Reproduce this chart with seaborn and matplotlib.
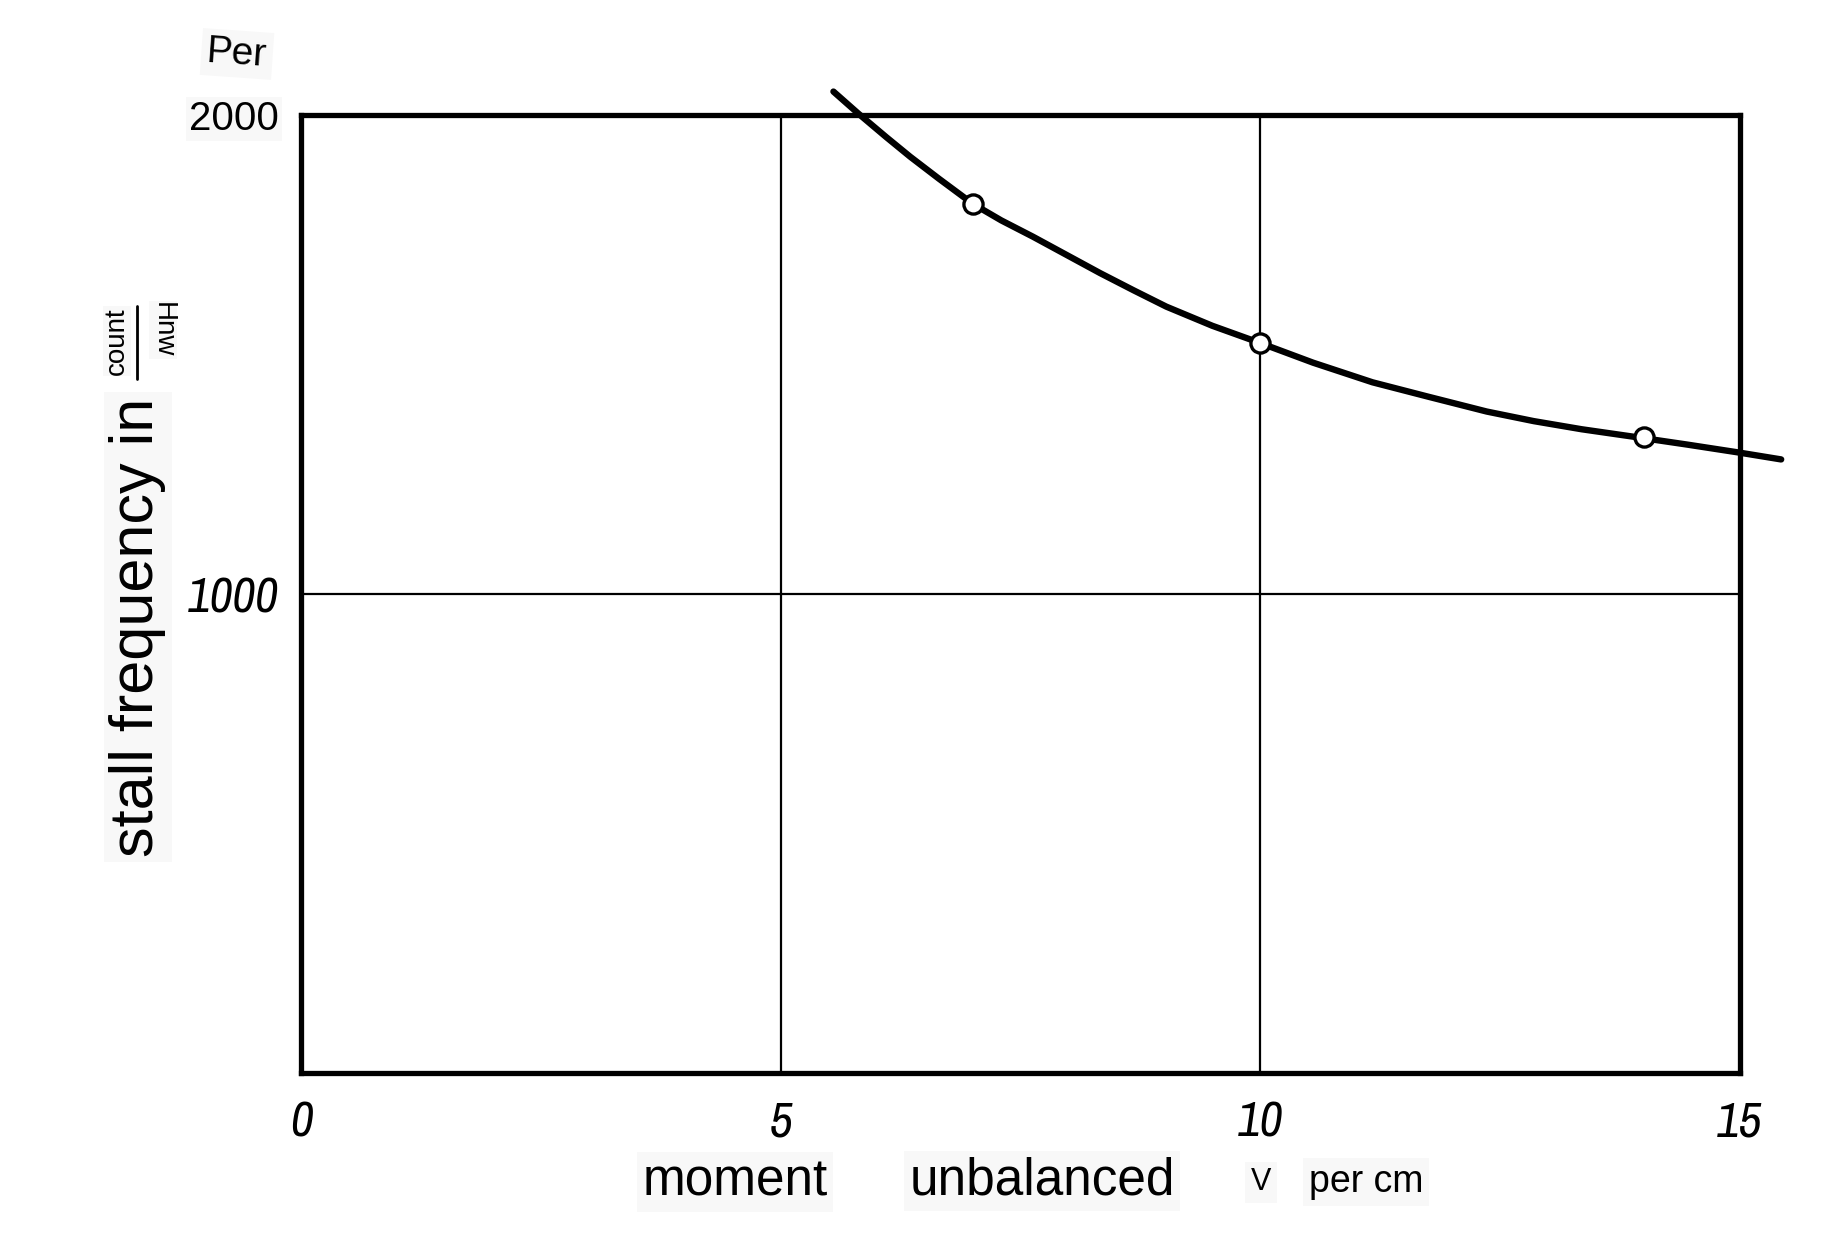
import matplotlib
matplotlib.use("Agg")
import matplotlib.pyplot as plt
from matplotlib import font_manager
import seaborn as sns
import pandas as pd

# ---- data ----
curve_x = [5.55, 5.81, 6.10, 6.35, 6.65, 7.00, 7.30, 7.63, 7.98, 8.33, 8.68, 9.02, 9.50,
           10.00, 10.55, 11.17, 11.75, 12.36, 12.85, 13.35, 13.94, 14.45, 14.97, 15.43]
curve_y = [2049, 2003, 1954, 1913, 1867, 1815, 1780, 1746, 1708, 1670, 1634, 1600, 1560,
           1524, 1483, 1442, 1412, 1381, 1361, 1344, 1327, 1312, 1296, 1281]
point_x = [7, 10, 14]
point_y = [1815, 1524, 1327]
x_ticks = [0, 5, 10, 15]
x_tick_labels = ["0", "5", "10", "15"]
y_ticks = [1000, 2000]
y_tick_labels = ["1000", "2000"]

sns.set_theme(style="white")
plt.rcParams["font.family"] = ["Liberation Sans", "DejaVu Sans"]
plt.rcParams["text.color"] = "black"
plt.rcParams["xtick.color"] = "black"
plt.rcParams["ytick.color"] = "black"

# look for a narrow italic face for the hand-written numerals
hand_family, hand_stretch, condensed = "Liberation Sans", "normal", False
for f in font_manager.fontManager.ttflist:
    nm = f.name
    if ("Narrow" in nm or "Condensed" in nm) and f.style in ("italic", "oblique"):
        hand_family, condensed = nm, True
        break
if not condensed:
    for f in font_manager.fontManager.ttflist:
        if str(f.stretch) in ("condensed", "semi-condensed", "extra-condensed") and f.style in ("italic", "oblique"):
            hand_family, hand_stretch, condensed = f.name, f.stretch, True
            break

xt_size = 36 if condensed else 30
y1_size = 36 if condensed else 26

fig = plt.figure(figsize=(18.29, 12.49), dpi=100)
ax = fig.add_axes([0.1646, 0.1409, 0.9513 - 0.1646, 0.9079 - 0.1409])

curve_df = pd.DataFrame({"x": curve_x, "y": curve_y})
pts_df = pd.DataFrame({"x": point_x, "y": point_y})

sns.lineplot(data=curve_df, x="x", y="y", ax=ax, color="black", linewidth=4.6,
             sort=False, estimator=None, clip_on=False, zorder=3)
ax.lines[-1].set_solid_capstyle("round")
ax.lines[-1].set_solid_joinstyle("round")
sns.scatterplot(data=pts_df, x="x", y="y", ax=ax, s=190, color="white",
                edgecolor="black", linewidth=2.4, zorder=4, clip_on=False)

ax.set_xlim(0, 15)
ax.set_ylim(0, 2000)

# grid lines
for gx in [5, 10]:
    ax.axvline(gx, color="black", linewidth=1.6, zorder=1)
ax.axhline(1000, color="black", linewidth=1.6, zorder=1)

for sp in ax.spines.values():
    sp.set_visible(True)
    sp.set_color("black")
    sp.set_linewidth(3.8)

ax.set_xticks(x_ticks)
ax.set_xticklabels(x_tick_labels, family=hand_family, style="italic",
                   fontsize=xt_size, stretch=hand_stretch)
ax.set_yticks(y_ticks)
ax.set_yticklabels(y_tick_labels)
ax.tick_params(axis="x", length=0, pad=20)
ax.tick_params(axis="y", length=0, pad=16)
ylabs = ax.get_yticklabels()
ylabs[0].set_fontfamily(hand_family)
ylabs[0].set_style("italic")
ylabs[0].set_stretch(hand_stretch)
ylabs[0].set_fontsize(y1_size)
ylabs[1].set_fontsize(29)
ylabs[1].set_bbox(dict(facecolor="#f8f8f8", edgecolor="none", pad=2))
ax.set_xlabel("")
ax.set_ylabel("")

box = dict(facecolor="#f8f8f8", edgecolor="none", pad=4)

# "Per" above the 2000 label
fig.text(0.1296, 0.9568, "Per", fontsize=28, ha="center", va="center",
         rotation=-4, bbox=box)

# y-axis label pieces
fig.text(138 / 1829, 1 - 627 / 1249, "stall frequency in", fontsize=44,
         rotation=90, ha="center", va="center", bbox=box)
fig.text(117 / 1829, 1 - 341 / 1249, "count", fontsize=20, rotation=90,
         ha="center", va="center", bbox=dict(facecolor="#f8f8f8", edgecolor="none", pad=1))
fig.text(163 / 1829, 1 - 330 / 1249, "Hnw", fontsize=20, rotation=-90,
         ha="center", va="center", bbox=dict(facecolor="#f8f8f8", edgecolor="none", pad=1))
fig.add_artist(plt.Line2D([137 / 1829, 137 / 1829], [1 - 306 / 1249, 1 - 379 / 1249],
                          color="black", linewidth=2, transform=fig.transFigure))

# x-axis label pieces
fig.text(735 / 1829, 1 - 1182 / 1249, "moment", fontsize=37, ha="center", va="center", bbox=box)
fig.text(1042 / 1829, 1 - 1181 / 1249, "unbalanced", fontsize=37, ha="center", va="center", bbox=box)
fig.text(1261 / 1829, 1 - 1182 / 1249, "V", fontsize=22, ha="center", va="center", bbox=box)
fig.text(1366 / 1829, 1 - 1182 / 1249, "per cm", fontsize=27, ha="center", va="center", bbox=box)

fig.savefig("out.png", dpi=100, facecolor="white")
